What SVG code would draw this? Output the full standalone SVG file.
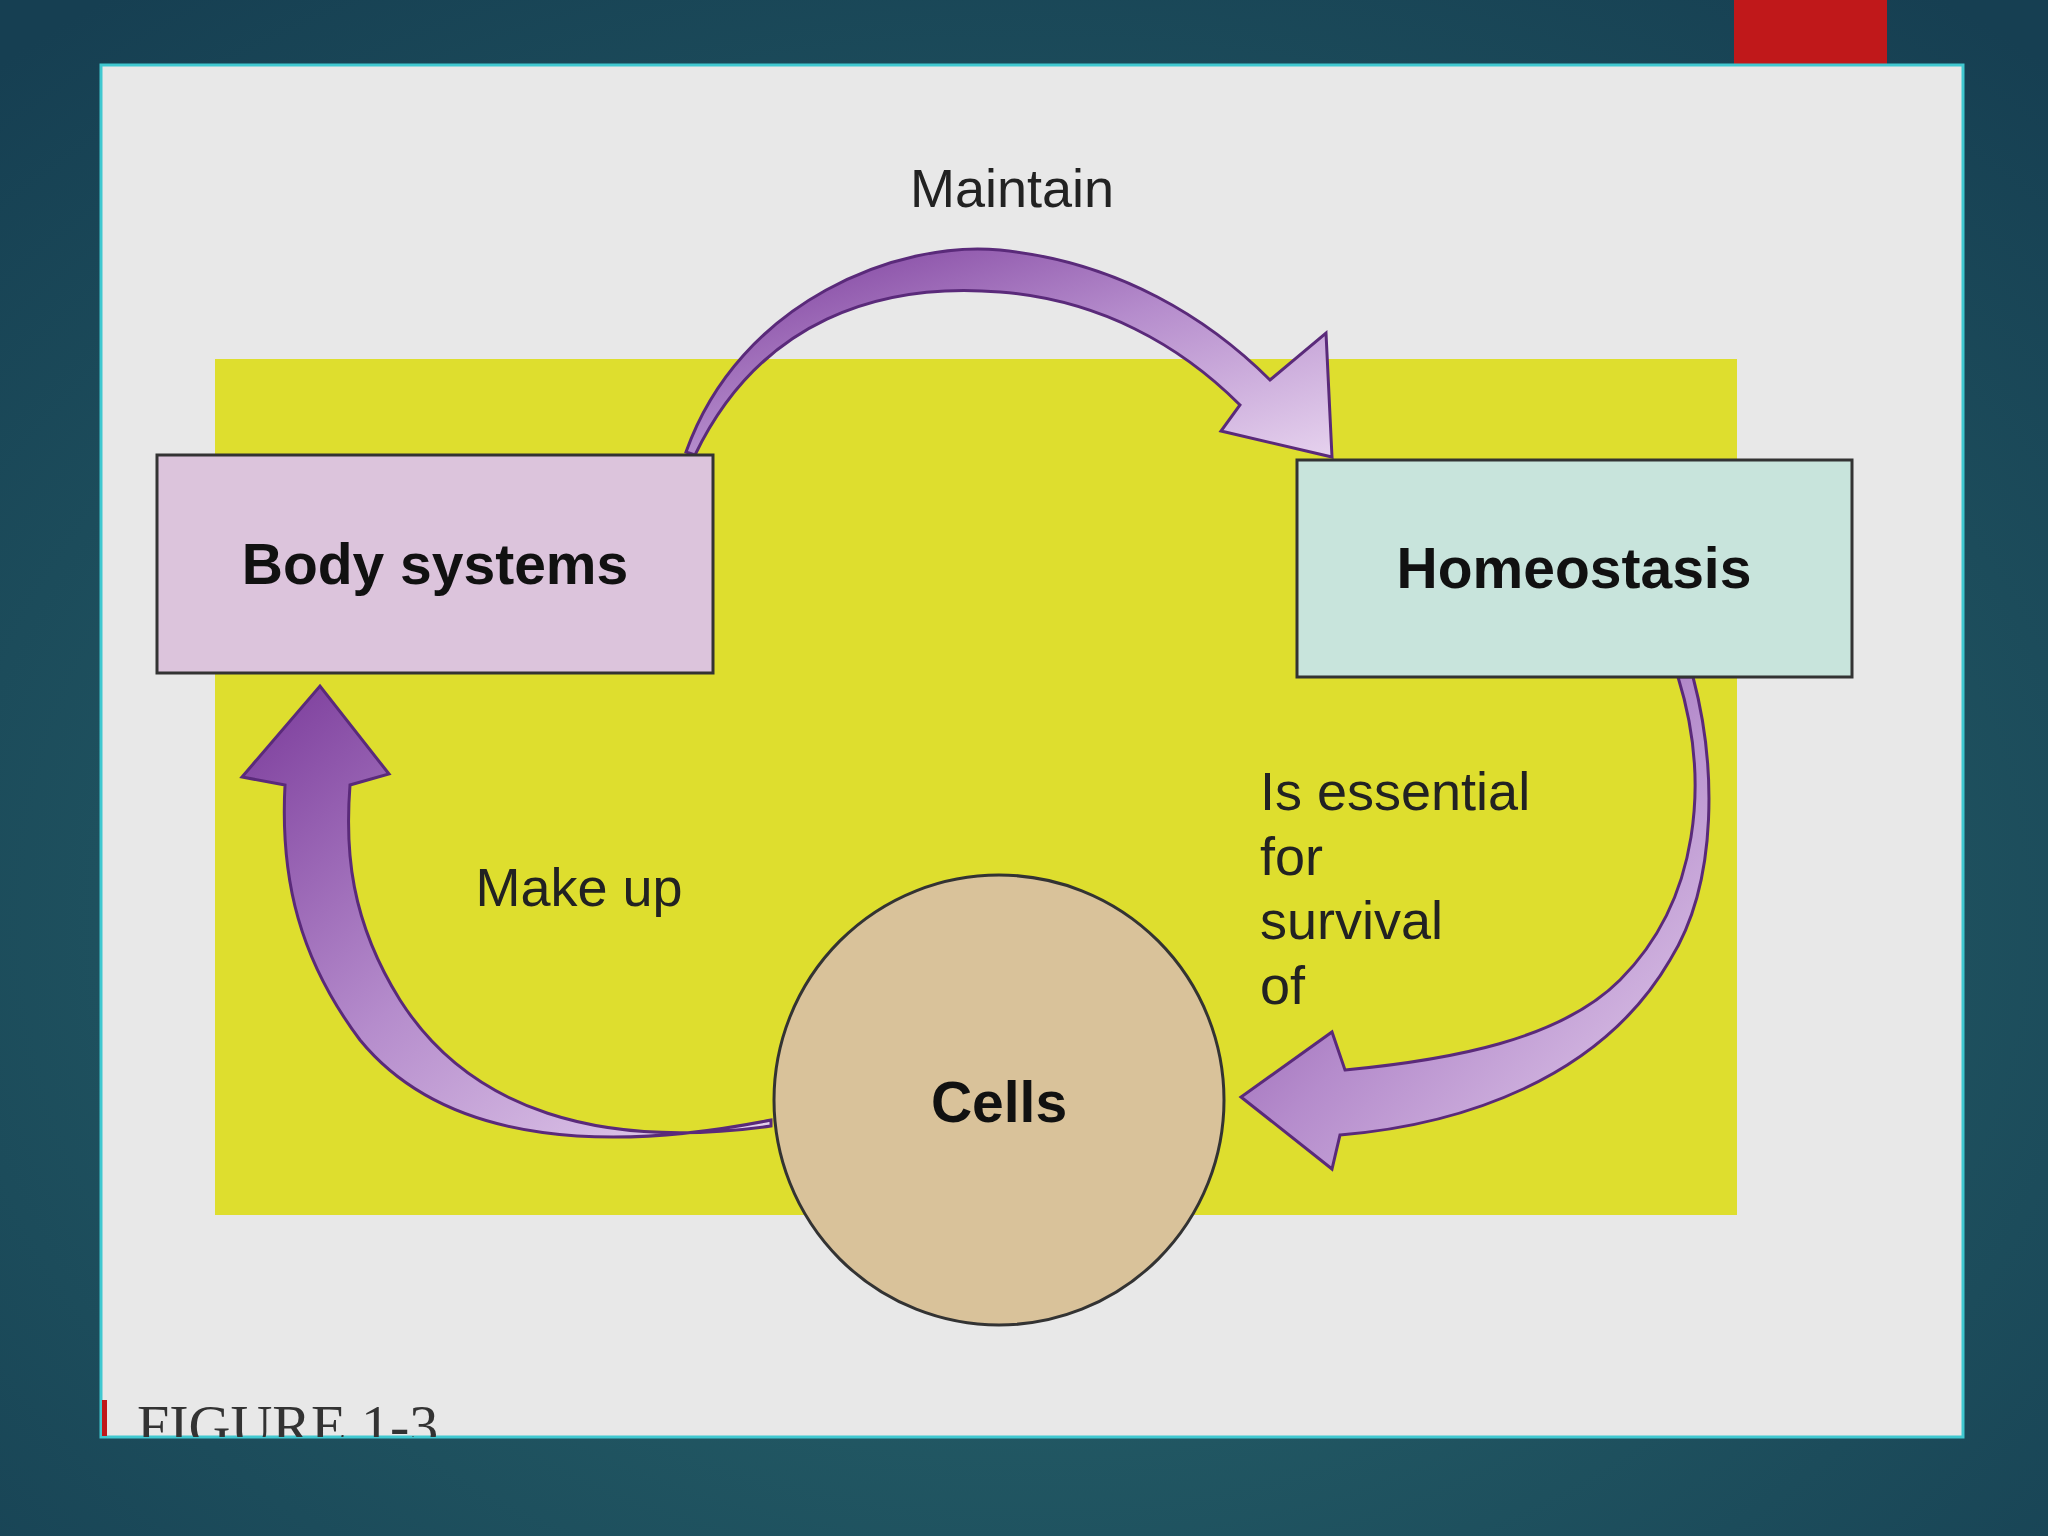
<svg xmlns="http://www.w3.org/2000/svg" width="2048" height="1536" viewBox="0 0 2048 1536">
<defs>
<radialGradient id="bg" cx="50%" cy="60%" r="75%"><stop offset="0" stop-color="#2a6a70"/><stop offset="1" stop-color="#163f52"/></radialGradient>
<linearGradient id="arr" x1="0" y1="0" x2="1" y2="1"><stop offset="0" stop-color="#7a3a9a"/><stop offset="0.5" stop-color="#b58ccc"/><stop offset="1" stop-color="#e6d2ee"/></linearGradient>
<clipPath id="panel"><rect x="101" y="65" width="1862" height="1372"/></clipPath>
<style>
.lbl{font-family:"Liberation Sans",Arial,sans-serif;font-size:54px;fill:#222}
.nt{font-family:"Liberation Sans",Arial,sans-serif;font-size:57px;font-weight:bold;fill:#111;text-anchor:middle}
.arrow{fill:url(#arr);stroke:#5a2a7a;stroke-width:3}
.box{stroke:#333;stroke-width:3}
</style>
</defs>
<rect width="2048" height="1536" fill="url(#bg)"/>
<rect x="1734" y="0" width="153" height="65" fill="#c0181a"/>
<rect x="101" y="65" width="1862" height="1372" fill="#e8e8e8" stroke="#40c8d0" stroke-width="3"/>
<rect x="215" y="359" width="1522" height="856" fill="#dede2e"/>
<g id="connectors">
<path class="arrow" d="M686,452 C740,300 900,240 1000,250 C1120,262 1210,320 1270,380 L1326,333 L1332,457 L1221,431 L1240,405 C1180,345 1100,300 1000,292 C880,282 760,320 695,455 Z"/>
<path class="arrow" d="M1678,677 C1710,780 1700,900 1620,980 C1560,1040 1450,1060 1345,1070 L1332,1032 L1241,1097 L1332,1169 L1340,1135 C1460,1125 1600,1080 1670,960 C1720,880 1715,760 1693,677 Z"/>
<path class="arrow" d="M771,1126 C600,1150 470,1110 400,1000 C350,920 345,850 350,785 L389,774 L320,686 L242,777 L285,785 C280,880 300,960 360,1040 C450,1150 620,1150 771,1120 Z"/>
</g>
<g id="body"><rect class="box" x="157" y="455" width="556" height="218" fill="#dcc4dc"/><text class="nt" x="435" y="584">Body systems</text></g>
<g id="homeo"><rect class="box" x="1297" y="460" width="555" height="217" fill="#c8e4dc"/><text class="nt" x="1574" y="588">Homeostasis</text></g>
<g id="cells"><circle cx="999" cy="1100" r="225" fill="#d9c29a" stroke="#333" stroke-width="3"/><text class="nt" x="999" y="1122">Cells</text></g>
<text class="lbl" x="1012" y="207" text-anchor="middle">Maintain</text>
<text class="lbl" x="579" y="906" text-anchor="middle">Make up</text>
<text class="lbl" x="1260" y="810">Is essential</text>
<text class="lbl" x="1260" y="875">for</text>
<text class="lbl" x="1260" y="939">survival</text>
<text class="lbl" x="1260" y="1004">of</text>
<g clip-path="url(#panel)">
<rect x="102" y="1400" width="5" height="36" fill="#c0181a"/>
<text x="137" y="1445" font-family="Liberation Serif,serif" font-size="58" fill="#333">FIGURE 1-3</text>
</g>
</svg>
